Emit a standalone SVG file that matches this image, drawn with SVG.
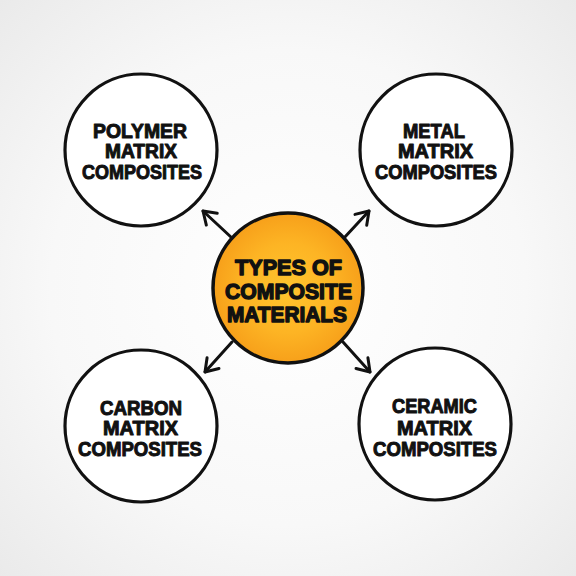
<svg xmlns="http://www.w3.org/2000/svg" width="576" height="576" viewBox="0 0 576 576">
<defs>
<radialGradient id="bg" cx="50%" cy="50%" r="75%">
<stop offset="0" stop-color="#ffffff"/>
<stop offset="0.55" stop-color="#f8f8f8"/>
<stop offset="1" stop-color="#e8e8e8"/>
</radialGradient>
<radialGradient id="core" cx="50%" cy="50%" r="50%">
<stop offset="0" stop-color="#ffc52e"/>
<stop offset="0.6" stop-color="#fdb424"/>
<stop offset="1" stop-color="#f7a01a"/>
</radialGradient>
<marker id="ah" viewBox="0 0 20 20" refX="16" refY="10" markerWidth="20" markerHeight="20" markerUnits="userSpaceOnUse" orient="auto">
<path d="M4 2 L16 10 L4 18" fill="none" stroke="#111" stroke-width="3" stroke-linecap="round" stroke-linejoin="round"/>
</marker>
</defs>
<style>
.node{fill:#fff;stroke:#111;stroke-width:3.2}
.lbl{font-family:"Liberation Sans",Arial,sans-serif;font-weight:700;font-size:20px;fill:#111;stroke:#111;stroke-width:1;stroke-linejoin:round;text-anchor:middle}
.big{font-size:22px;stroke-width:1.4}
.conn{stroke:#111;stroke-width:3;stroke-linecap:round;fill:none;marker-end:url(#ah)}
</style>
<rect width="576" height="576" fill="url(#bg)"/>
<g id="connectors">
<line class="conn" x1="232" y1="238" x2="203" y2="211"/>
<line class="conn" x1="344" y1="238" x2="369" y2="211"/>
<line class="conn" x1="232" y1="342" x2="205" y2="372"/>
<line class="conn" x1="343" y1="342" x2="370" y2="372"/>
</g>
<g id="center">
<circle cx="288" cy="288" r="75" fill="url(#core)" stroke="#111" stroke-width="3.5"/>
<text class="lbl big" x="288.5" y="275" textLength="107" lengthAdjust="spacingAndGlyphs">TYPES OF</text>
<text class="lbl big" x="288.5" y="299" textLength="127" lengthAdjust="spacingAndGlyphs">COMPOSITE</text>
<text class="lbl big" x="287" y="322" textLength="120" lengthAdjust="spacingAndGlyphs">MATERIALS</text>
</g>
<g id="polymer">
<circle class="node" cx="141" cy="150" r="76"/>
<text class="lbl" x="140" y="138" textLength="94" lengthAdjust="spacingAndGlyphs">POLYMER</text>
<text class="lbl" x="141" y="158" textLength="72" lengthAdjust="spacingAndGlyphs">MATRIX</text>
<text class="lbl" x="142" y="178.5" textLength="120" lengthAdjust="spacingAndGlyphs">COMPOSITES</text>
</g>
<g id="metal">
<circle class="node" cx="436" cy="150" r="76"/>
<text class="lbl" x="434" y="138" textLength="62" lengthAdjust="spacingAndGlyphs">METAL</text>
<text class="lbl" x="435.5" y="158" textLength="75" lengthAdjust="spacingAndGlyphs">MATRIX</text>
<text class="lbl" x="436" y="178.5" textLength="122" lengthAdjust="spacingAndGlyphs">COMPOSITES</text>
</g>
<g id="carbon">
<circle class="node" cx="141" cy="426" r="76"/>
<text class="lbl" x="141" y="414.5" textLength="82" lengthAdjust="spacingAndGlyphs">CARBON</text>
<text class="lbl" x="140.5" y="435" textLength="75" lengthAdjust="spacingAndGlyphs">MATRIX</text>
<text class="lbl" x="140" y="455.5" textLength="124" lengthAdjust="spacingAndGlyphs">COMPOSITES</text>
</g>
<g id="ceramic">
<circle class="node" cx="435" cy="424" r="76"/>
<text class="lbl" x="434.5" y="413" textLength="85" lengthAdjust="spacingAndGlyphs">CERAMIC</text>
<text class="lbl" x="434.5" y="435" textLength="75" lengthAdjust="spacingAndGlyphs">MATRIX</text>
<text class="lbl" x="435" y="455.5" textLength="124" lengthAdjust="spacingAndGlyphs">COMPOSITES</text>
</g>
</svg>
